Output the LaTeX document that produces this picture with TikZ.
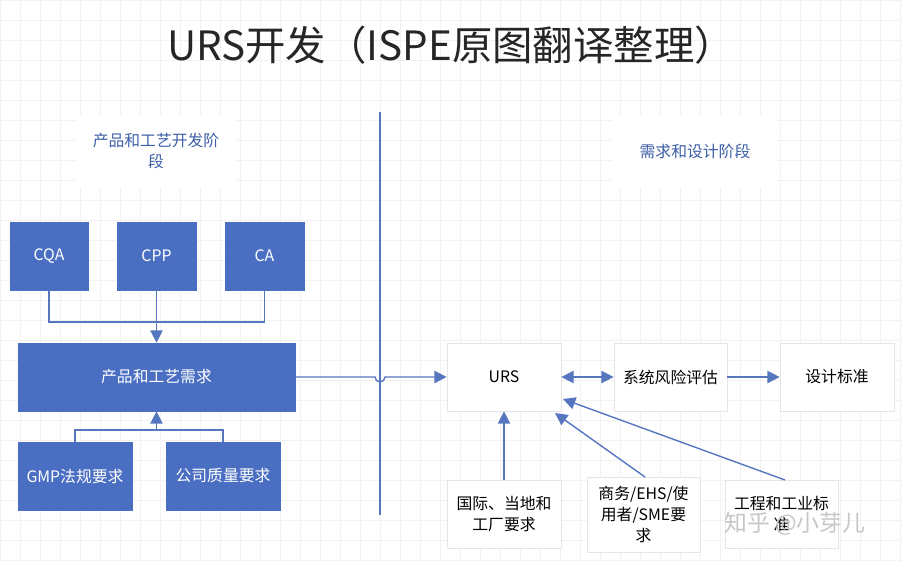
\documentclass[tikz,border=0pt]{standalone}
\usepackage{fontspec}
\setmainfont{Noto Sans CJK SC}
\newfontfamily\titlefont{Noto Sans CJK SC}
\usetikzlibrary{arrows.meta}
\definecolor{bfill}{HTML}{4A6FC2}
\definecolor{lcol}{HTML}{5677C0}
\definecolor{tcol}{HTML}{3D5FA8}
\tikzset{
 x=0.02cm,y=-0.02cm,
 bluebox/.style={draw=bfill,fill=bfill,text=white,font=\fontsize{9}{12}\selectfont,inner sep=0pt},
 whitebox/.style={draw=black!10,fill=white,font=\fontsize{9}{12}\selectfont,inner sep=0pt,align=center},
 conn/.style={draw=lcol,line width=0.8pt},
 arr/.style={conn,-{Triangle[length=7pt,width=7pt]}},
}
\begin{document}
\begin{tikzpicture}
\fill[white] (0,0) rectangle (902,562);
\useasboundingbox (0,0) rectangle (902,562);
\draw[black!5,step=0.4cm,line width=0.3pt] (0,0) grid (902,562);
\node[font=\titlefont\fontsize{23}{27}\selectfont,text=black!85] (title) at (451,45) {URS开发（ISPE原图翻译整理）};
\node[fill=white,minimum width=160*0.02cm,minimum height=73*0.02cm,text=tcol,align=center,font=\fontsize{9}{12}\selectfont] (h1) at (156,151) {产品和工艺开发阶\\段};
\node[fill=white,minimum width=164*0.02cm,minimum height=73*0.02cm,text=tcol,font=\fontsize{9}{12}\selectfont] (h2) at (695,151) {需求和设计阶段};
\node[bluebox,minimum width=78*0.02cm,minimum height=68*0.02cm] (cqa) at (49,256) {CQA};
\node[bluebox,minimum width=79*0.02cm,minimum height=68*0.02cm] (cpp) at (156.5,256) {CPP};
\node[bluebox,minimum width=79*0.02cm,minimum height=68*0.02cm] (ca) at (264.5,256) {CA};
\node[bluebox,minimum width=277*0.02cm,minimum height=68*0.02cm] (prod) at (156.5,377) {产品和工艺需求};
\node[bluebox,minimum width=114*0.02cm,minimum height=68*0.02cm] (gmp) at (75,476) {GMP法规要求};
\node[bluebox,minimum width=114*0.02cm,minimum height=68*0.02cm] (qual) at (223,476) {公司质量要求};
\coordinate (vt) at (380,112); \coordinate (vb) at (380,515);
\draw[lcol,line width=0.8pt] (vt) -- (vb);
\node[whitebox,minimum width=114*0.02cm,minimum height=68*0.02cm] (urs) at (504,377) {URS};
\node[whitebox,minimum width=113*0.02cm,minimum height=68*0.02cm] (risk) at (670.5,377) {系统风险评估};
\node[whitebox,minimum width=114*0.02cm,minimum height=68*0.02cm] (std) at (837,377) {设计标准};
\node[whitebox,minimum width=114*0.02cm,minimum height=68*0.02cm] (b1) at (504,514) {国际、当地和\\工厂要求};
\node[whitebox,minimum width=113*0.02cm,minimum height=75*0.02cm] (b2) at (643.5,514.5) {商务/EHS/使\\用者/SME要\\求};
\node[whitebox,minimum width=113*0.02cm,minimum height=68*0.02cm] (b3) at (781.5,514) {工程和工业标\\准};
\draw[conn] (cqa.south) -- (49,322) -- (264.5,322) -- (ca.south);
\draw[arr] (cpp.south) -- (prod.north);
\draw[conn] (gmp.north) -- (75,430) -- (223,430) -- (qual.north);
\draw[arr] (156.5,430) -- (prod.south);
\draw[arr] (prod.east) -- (375,377) arc (180:0:5) -- (urs.west);
\draw[conn,{Triangle[length=7pt,width=7pt]}-{Triangle[length=7pt,width=7pt]}] (urs.east) -- (risk.west);
\draw[arr] (risk.east) -- (std.west);
\draw[arr] (b1.north) -- (urs.south);
\draw[arr] (645,477) -- (555,413);
\draw[arr] (785,480) -- (563,399);
\node[text=black!22,font=\fontsize{13}{15}\selectfont] (wm) at (795,524) {知乎 @小芽儿};
\end{tikzpicture}
\end{document}
